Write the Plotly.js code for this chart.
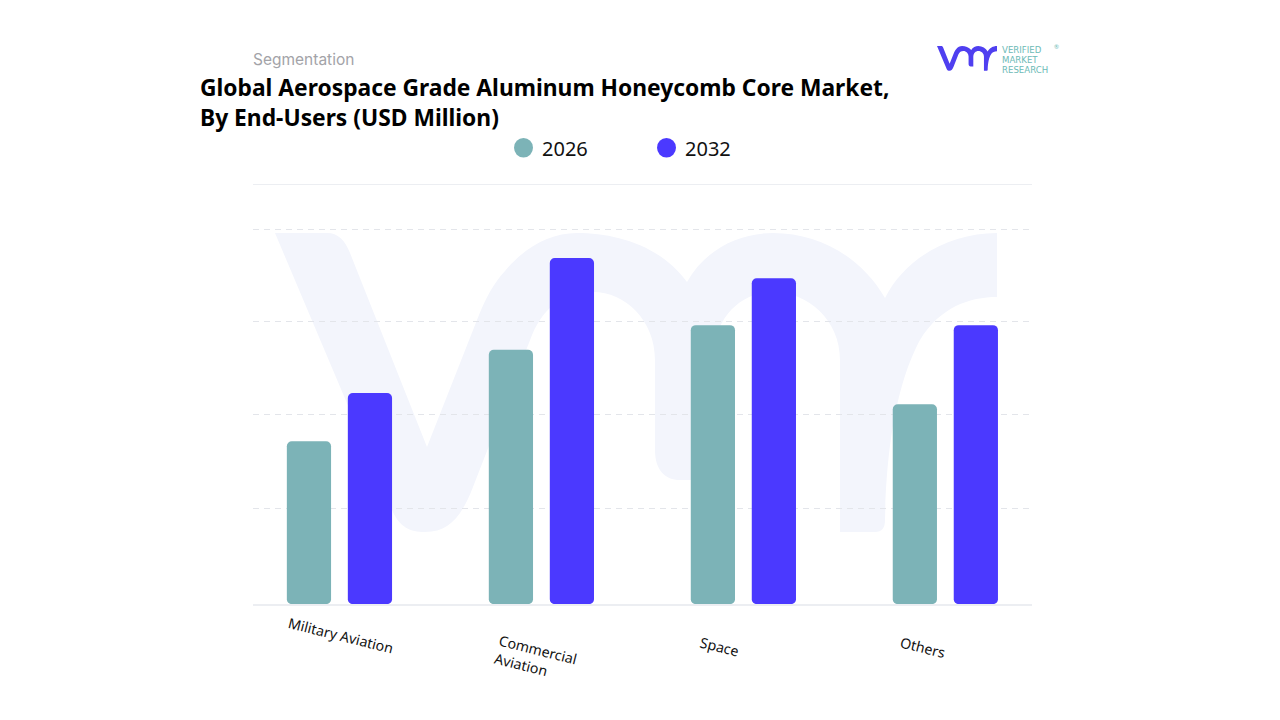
<!DOCTYPE html>
<html>
<head>
<meta charset="utf-8">
<script src="https://cdn.plot.ly/plotly-3.0.1.min.js"></script>
<style>html,body{margin:0;padding:0;background:#fff}#chart{width:1280px;height:720px}</style>
</head>
<body>
<div id="chart"></div>
<script>
const categories = ["Military Aviation", "Commercial<br>Aviation", "Space", "Others"];
const years = ["2026", "2032"];
const values2026 = [38.9, 60.7, 66.6, 47.7];
const values2032 = [50.4, 82.6, 77.8, 66.6];
const gridValues = [22.9, 45.3, 67.5, 89.5];
const labelShiftX = [2, -5, -24, -22];
const labelY = [635, 658, 646, 647];

const W = 1280, H = 720;
const px = x => x / W, py = y => 1 - y / H;

// "vmr" mark outline, in pixels of the large watermark
const mark = [
 ['M',275,233],['L',327,233],['C',338,233,345,240,350,253],['L',427,447],['L',477,320],
 ['C',486,297,494,283,505,271],['C',525,247,550,233,577,233],['C',615,233,660,245,687,282],
 ['C',705,250,738,233,773,233],['C',820,233,862,258,885,298],['C',905,258,950,233,997,233],
 ['L',997,297],['C',970,297,940,307,920,340],['C',905,368,887,420,885,520],['C',885,528,882,532,875,532],
 ['L',840,532],['L',840,360],['C',840,320,808,292,773,292],['C',740,292,714,318,712,360],['L',712,480],
 ['L',680,480],['C',665,480,655,470,655,450],['L',655,360],['C',655,320,625,292,593,292],
 ['C',565,292,545,305,532,335],['L',473,487],['C',462,515,450,532,425,532],['C',410,532,400,527,393,512],['Z']
];
function markPath(scale, tx, ty) {
  return mark.map(c => {
    let s = c[0];
    for (let i = 1; i < c.length; i += 2) {
      const x = (c[i] - 275) * scale + tx, y = (c[i + 1] - 233) * scale + ty;
      s += (i > 1 ? ' ' : '') + px(x).toFixed(5) + ',' + py(y).toFixed(5);
    }
    return s;
  }).join(' ');
}

const teal = '#7cb3b7', blue = '#4b39ff', logoTeal = '#6cbab6';
const xIdx = categories.map((_, i) => i);
const traces = [
  {type:'bar', x:xIdx, y:values2026, name:years[0], marker:{color:teal}, showlegend:false},
  {type:'bar', x:xIdx, y:values2032, name:years[1], marker:{color:blue}, showlegend:false}
];

const note = (text, x, y, family, size, color, anchor) => ({
  text, xref:'paper', yref:'paper', x:px(x), y:py(y), xanchor:anchor || 'left', yanchor:'middle',
  showarrow:false, align:'left', borderpad:0, font:{family, size, color}
});
const annotations = [
  note('Segmentation', 252, 59.5, 'Inter, Roboto, sans-serif', 15.5, '#a3a3a8'),
  note('<b>Global Aerospace Grade Aluminum Honeycomb Core Market,</b><br><b>By End-Users (USD Million)</b>', 199, 102.5, 'Noto Sans, sans-serif', 22.8, '#000'),
  note(years[0], 541, 148.5, 'Noto Sans, sans-serif', 20, '#111'),
  note(years[1], 684, 148.5, 'Noto Sans, sans-serif', 20, '#111'),
  note('VERIFIED', 1001, 50.5, 'DejaVu Sans, sans-serif', 8.6, logoTeal),
  note('MARKET', 1001, 60, 'DejaVu Sans, sans-serif', 8.6, logoTeal),
  note('RESEARCH', 1001, 69.5, 'DejaVu Sans, sans-serif', 8.6, logoTeal),
  note('®', 1053, 47, 'Lato, sans-serif', 6, logoTeal)
];
categories.forEach((c, i) => annotations.push({
  text:c, xref:'x', yref:'paper', x:i, xshift:labelShiftX[i], y:py(labelY[i]), xanchor:'center', yanchor:'middle',
  showarrow:false, textangle:14, align:'left',
  font:{family:'Noto Sans, sans-serif', size:14.2, color:'#111'}
}));

const shapes = [
  {type:'path', xref:'paper', yref:'paper', layer:'below', path:markPath(1, 275, 233), fillcolor:'#f3f5fc', line:{width:0}},
  {type:'path', xref:'paper', yref:'paper', layer:'above', path:markPath(60/722, 937, 46), fillcolor:'#4f3ff0', line:{width:0}},
  {type:'circle', xref:'paper', yref:'paper', x0:px(514), x1:px(533), y0:py(157.5), y1:py(138), fillcolor:teal, line:{width:0}},
  {type:'circle', xref:'paper', yref:'paper', x0:px(657), x1:px(676), y0:py(157.5), y1:py(138), fillcolor:blue, line:{width:0}}
];

const layout = {
  width:W, height:H, autosize:false, showlegend:false,
  margin:{l:0, r:0, t:0, b:0, pad:0},
  paper_bgcolor:'#fff', plot_bgcolor:'rgba(0,0,0,0)',
  barmode:'group', bargap:0.396, bargroupgap:0.275, barcornerradius:5,
  xaxis:{domain:[px(253), px(1032)], range:[-0.428, 3.429], showgrid:false, zeroline:false,
         showticklabels:false, ticks:'', showline:true, mirror:true, linecolor:'#eceef2', linewidth:1.5, fixedrange:true},
  yaxis:{domain:[py(604.2), py(185.2)], range:[0, 100], tickvals:gridValues, showticklabels:false, ticks:'',
         showgrid:true, gridcolor:'#e3e5ea', griddash:'6px,5px', gridwidth:1, zeroline:false, showline:false, fixedrange:true},
  annotations, shapes
};
Plotly.newPlot('chart', traces, layout, {staticPlot:true, displayModeBar:false}).then(gd => {
  // the reference rounds the foot of each bar too: reshape Plotly's own bar rectangle
  gd.querySelectorAll('.bars .point path').forEach(p => {
    const b = p.getBBox(), r = 5, x0 = b.x, x1 = b.x + b.width, y0 = b.y, y1 = b.y + b.height;
    p.setAttribute('d', `M${x0+r},${y0}H${x1-r}A${r},${r} 0 0 1 ${x1},${y0+r}V${y1-r}A${r},${r} 0 0 1 ${x1-r},${y1}H${x0+r}A${r},${r} 0 0 1 ${x0},${y1-r}V${y0+r}A${r},${r} 0 0 1 ${x0+r},${y0}Z`);
  });
});
</script>
</body>
</html>
